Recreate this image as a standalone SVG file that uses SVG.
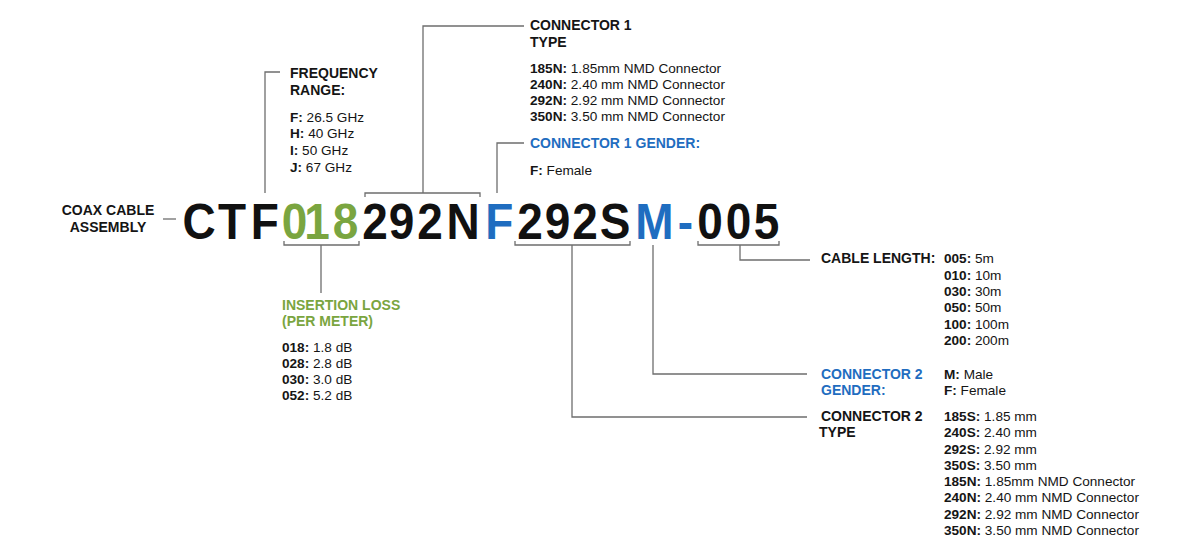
<svg xmlns="http://www.w3.org/2000/svg" width="1200" height="557" viewBox="0 0 1200 557">
<style>
text{font-family:"Liberation Sans",Arial,sans-serif;fill:#151515}
.code{font-size:50px;font-weight:bold;fill:#111;text-anchor:middle}
.g{fill:#7aa540}
.b{fill:#1f6dc0}
.h{font-size:14px;font-weight:bold}
.v{font-size:13.6px}
.v tspan.k{font-weight:bold}
.conn{fill:none;stroke:#6e6e6e;stroke-width:1.3}
</style>
<rect width="1200" height="557" fill="#fff"/>
<g id="connectors" class="conn">
<path d="M163,219 H176"/>
<path d="M280,72 H265 V193"/>
<path d="M365,197 V193 H480 V197 M423,193 V26 H524"/>
<path d="M497,193 V143 H524"/>
<path d="M284,241 V245 H359 V241 M321,245 V293"/>
<path d="M515,241 V245 H630 V241 M572,245 V417 H807"/>
<path d="M653,245 V374 H807"/>
<path d="M698,241 V245 H779 V241 M740,245 V260 H810"/>
</g>
<g id="code">
<text class="code" y="239" transform="scale(0.92 1)"><tspan x="216.3 252.17 287.77">CTF</tspan><tspan class="g" x="320.11 344.57 375.54">018</tspan><tspan x="407.61 436.41 467.39 503.26">292N</tspan><tspan class="b" x="542.66">F</tspan><tspan x="576.09 605.98 635.87 668.48">292S</tspan><tspan class="b" x="711.41 745.11">M-</tspan><tspan x="771.74 802.72 833.15">005</tspan></text>
</g>
<g id="coax">
<text class="h" x="108" y="215" text-anchor="middle">COAX CABLE</text>
<text class="h" x="108" y="232" text-anchor="middle">ASSEMBLY</text>
</g>
<g id="frequency">
<text class="h" x="290" y="78">FREQUENCY</text>
<text class="h" x="290" y="95">RANGE:</text>
<text class="v" x="290" y="121.5"><tspan class="k">F:</tspan> 26.5 GHz</text>
<text class="v" x="290" y="138"><tspan class="k">H:</tspan> 40 GHz</text>
<text class="v" x="290" y="155"><tspan class="k">I:</tspan> 50 GHz</text>
<text class="v" x="290" y="171.5"><tspan class="k">J:</tspan> 67 GHz</text>
</g>
<g id="connector1-type">
<text class="h" x="530" y="30">CONNECTOR 1</text>
<text class="h" x="530" y="47">TYPE</text>
<text class="v" x="530" y="73"><tspan class="k">185N:</tspan> 1.85mm NMD Connector</text>
<text class="v" x="530" y="89"><tspan class="k">240N:</tspan> 2.40 mm NMD Connector</text>
<text class="v" x="530" y="105"><tspan class="k">292N:</tspan> 2.92 mm NMD Connector</text>
<text class="v" x="530" y="121"><tspan class="k">350N:</tspan> 3.50 mm NMD Connector</text>
</g>
<g id="connector1-gender">
<text class="h b" x="530" y="148">CONNECTOR 1 GENDER:</text>
<text class="v" x="530" y="175"><tspan class="k">F:</tspan> Female</text>
</g>
<g id="insertion-loss">
<text class="h g" x="282" y="310">INSERTION LOSS</text>
<text class="h g" x="282" y="326">(PER METER)</text>
<text class="v" x="282" y="352"><tspan class="k">018:</tspan> 1.8 dB</text>
<text class="v" x="282" y="368"><tspan class="k">028:</tspan> 2.8 dB</text>
<text class="v" x="282" y="384"><tspan class="k">030:</tspan> 3.0 dB</text>
<text class="v" x="282" y="400"><tspan class="k">052:</tspan> 5.2 dB</text>
</g>
<g id="cable-length">
<text class="h" x="821" y="263">CABLE LENGTH:</text>
<text class="v" x="944" y="263"><tspan class="k">005:</tspan> 5m</text>
<text class="v" x="944" y="279.5"><tspan class="k">010:</tspan> 10m</text>
<text class="v" x="944" y="296"><tspan class="k">030:</tspan> 30m</text>
<text class="v" x="944" y="312"><tspan class="k">050:</tspan> 50m</text>
<text class="v" x="944" y="328.5"><tspan class="k">100:</tspan> 100m</text>
<text class="v" x="944" y="345"><tspan class="k">200:</tspan> 200m</text>
</g>
<g id="connector2-gender">
<text class="h b" x="821" y="379">CONNECTOR 2</text>
<text class="h b" x="821" y="395">GENDER:</text>
<text class="v" x="944" y="379"><tspan class="k">M:</tspan> Male</text>
<text class="v" x="944" y="395"><tspan class="k">F:</tspan> Female</text>
</g>
<g id="connector2-type">
<text class="h" x="821" y="421">CONNECTOR 2</text>
<text class="h" x="819" y="437">TYPE</text>
<text class="v" x="944" y="421"><tspan class="k">185S:</tspan> 1.85 mm</text>
<text class="v" x="944" y="437"><tspan class="k">240S:</tspan> 2.40 mm</text>
<text class="v" x="944" y="453.5"><tspan class="k">292S:</tspan> 2.92 mm</text>
<text class="v" x="944" y="470"><tspan class="k">350S:</tspan> 3.50 mm</text>
<text class="v" x="944" y="486"><tspan class="k">185N:</tspan> 1.85mm NMD Connector</text>
<text class="v" x="944" y="502"><tspan class="k">240N:</tspan> 2.40 mm NMD Connector</text>
<text class="v" x="944" y="518.5"><tspan class="k">292N:</tspan> 2.92 mm NMD Connector</text>
<text class="v" x="944" y="535"><tspan class="k">350N:</tspan> 3.50 mm NMD Connector</text>
</g>
</svg>
